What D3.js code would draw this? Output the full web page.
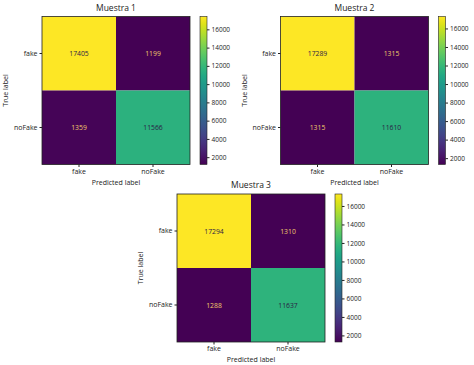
<!DOCTYPE html>
<html>
<head>
<meta charset="utf-8">
<script src="https://cdn.jsdelivr.net/npm/d3@7"></script>
<style>
  body { margin: 0; background: #fff; }
  svg text { font-family: "Open Sans", "Noto Sans", sans-serif; }
</style>
</head>
<body>
<svg id="chart" width="474" height="365"></svg>
<script>
const classLabels = ["fake", "noFake"];
const titles = ["Muestra 1", "Muestra 2", "Muestra 3"];
const muestra1 = [[17405, 1199], [1359, 11566]];
const muestra2 = [[17289, 1315], [1315, 11610]];
const muestra3 = [[17294, 1310], [1288, 11637]];
const colorbarTicks = [2000, 4000, 6000, 8000, 10000, 12000, 14000, 16000];

const svg = d3.select("#chart");

// gradient for colorbars
const defs = svg.append("defs");
const grad = defs.append("linearGradient")
    .attr("id", "viridisGrad")
    .attr("x1", "0").attr("y1", "1").attr("x2", "0").attr("y2", "0");
d3.range(0, 1.0001, 0.05).forEach(t => {
    grad.append("stop").attr("offset", t).attr("stop-color", d3.interpolateViridis(t));
});

const size = 148;

const drawPanel = (matrix, title, left, top) => {
    const g = svg.append("g").attr("transform", `translate(${left},${top})`);
    const flat = matrix.flat();
    const minV = d3.min(flat), maxV = d3.max(flat);

    const color = d3.scaleSequential(d3.interpolateViridis).domain([minV, maxV]);
    const x = d3.scaleBand().domain(classLabels).range([0, size]);
    const y = d3.scaleBand().domain(classLabels).range([0, size]);

    const cells = [];
    matrix.forEach((row, i) => row.forEach((v, j) => cells.push({ row: classLabels[i], col: classLabels[j], v })));

    g.selectAll("rect.cell")
        .data(cells)
        .enter()
        .append("rect")
        .attr("x", d => x(d.col))
        .attr("y", d => y(d.row))
        .attr("width", x.bandwidth())
        .attr("height", y.bandwidth())
        .attr("fill", d => color(d.v));

    const mid = (minV + maxV) / 2;
    g.selectAll("text.val")
        .data(cells)
        .enter()
        .append("text")
        .attr("x", d => x(d.col) + x.bandwidth() / 2)
        .attr("y", d => y(d.row) + y.bandwidth() / 2)
        .attr("text-anchor", "middle")
        .attr("dominant-baseline", "central")
        .attr("font-size", "6.8px")
        .attr("fill", d => d.v < mid ? "#f2c96a" : "#2b1a45")
        .text(d => d.v);

    g.append("rect")
        .attr("width", size).attr("height", size)
        .attr("fill", "none").attr("stroke", "#222").attr("stroke-width", 0.8);

    const xAxis = g.append("g")
        .attr("transform", `translate(0,${size})`)
        .call(d3.axisBottom(x).tickSize(2.5).tickPadding(2));
    const yAxis = g.append("g")
        .call(d3.axisLeft(y).tickSize(2.5).tickPadding(2));
    [xAxis, yAxis].forEach(a => {
        a.select(".domain").remove();
        a.selectAll("text").attr("font-size", "7px").attr("fill", "#222");
        a.selectAll("line").attr("stroke", "#222");
    });

    g.append("text")
        .attr("x", size / 2).attr("y", -6)
        .attr("text-anchor", "middle")
        .attr("font-size", "8.5px")
        .attr("fill", "#222")
        .text(title);

    g.append("text")
        .attr("x", size / 2).attr("y", size + 20)
        .attr("text-anchor", "middle")
        .attr("font-size", "7px")
        .attr("fill", "#222")
        .text("Predicted label");

    g.append("text")
        .attr("transform", `translate(-34,${size / 2}) rotate(-90)`)
        .attr("text-anchor", "middle")
        .attr("font-size", "7px")
        .attr("fill", "#222")
        .text("True label");

    // colorbar
    const cb = g.append("g").attr("transform", `translate(${size + 10},0)`);
    const cbScale = d3.scaleLinear().domain([minV, maxV]).range([size, 0]);
    cb.append("rect")
        .attr("width", 7).attr("height", size)
        .attr("fill", "url(#viridisGrad)")
        .attr("stroke", "#222").attr("stroke-width", 0.6);
    const cbAxis = cb.append("g")
        .attr("transform", "translate(7,0)")
        .call(d3.axisRight(cbScale).tickValues(colorbarTicks).tickFormat(d3.format("d")).tickSize(2.5).tickPadding(2));
    cbAxis.select(".domain").remove();
    cbAxis.selectAll("text").attr("font-size", "6.5px").attr("fill", "#222");
    cbAxis.selectAll("line").attr("stroke", "#222");
};

drawPanel(muestra1, titles[0], 42, 16.5);
drawPanel(muestra2, titles[1], 280.5, 16.5);
drawPanel(muestra3, titles[2], 177, 194);
</script>
</body>
</html>
